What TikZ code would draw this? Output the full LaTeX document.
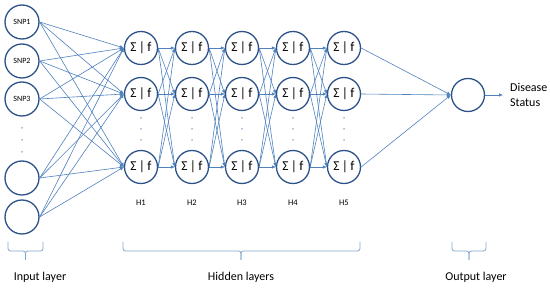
\documentclass[tikz,border=0pt]{standalone}
\usepackage{fontspec}
\setmainfont{Carlito}
\usetikzlibrary{arrows.meta}
\definecolor{linkblue}{RGB}{79,129,189}
\definecolor{ringblue}{RGB}{45,82,138}
\definecolor{bracecol}{RGB}{130,165,205}

\begin{document}
\begin{tikzpicture}[
    x=1pt, y=-1pt,
    neuron/.style={circle, draw=ringblue, line width=1.3pt, minimum size=33pt, inner sep=0pt, font=\fontsize{13.5}{13.5}\selectfont},
    inneuron/.style={neuron, minimum size=34pt, font=\fontsize{8}{8}\selectfont},
    link/.style={draw=linkblue, line width=0.6pt, -{Latex[length=4pt,width=3.5pt]}},
    dotmark/.style={circle, fill=linkblue, inner sep=0pt, minimum size=1.5pt},
    grp/.style={draw=bracecol, line width=0.8pt, rounded corners=2.5pt},
    layername/.style={font=\fontsize{8.5}{8.5}\selectfont},
    caption/.style={font=\fontsize{12}{15}\selectfont}
]
\useasboundingbox (0,0) rectangle (550,288);
% input layer
\foreach \i/\y/\txt in {1/22/SNP1, 2/61/SNP2, 3/99/SNP3, 4/178/, 5/217/}
  \node[inneuron] (in\i) at (22,\y) {\txt};
\foreach \y in {128,140,152}
  \node[dotmark] at (22,\y) {};
% hidden layers H1..H5
\foreach \c/\x in {1/141, 2/192, 3/242, 4/293, 5/344} {
  \foreach \r/\y in {1/48, 2/94, 3/167}
    \node[neuron] (h\c\r) at (\x,\y) {Σ\,|\,f};
  \foreach \y in {118,129,140}
    \node[dotmark] at (\x,\y) {};
  \node[layername] (lab\c) at (\x,203) {H\c};
}
% output layer
\node[neuron] (out) at (468,95) {};
\node[caption, anchor=west, align=left, inner xsep=7pt, inner ysep=0pt] (status) at (503,95) {Disease\\Status};
% connections
\foreach \i in {1,...,5}
  \foreach \j in {1,2,3}
    \draw[link] (in\i.east) -- (h1\j.west);
\foreach \c [evaluate=\c as \n using int(\c+1)] in {1,...,4}
  \foreach \a in {1,2,3}
    \foreach \b in {1,2,3}
      \draw[link] (h\c\a.east) -- (h\n\b.west);
\foreach \r in {1,2,3}
  \draw[link] (h5\r.east) -- (out.west);
\draw[link] (out.east) -- (status.west);
% braces and captions
\foreach \a/\m/\b in {8/25.5/43, 123/241/360, 452/469/486} {
  \draw[grp] (\a,242) |- (\m,251) -- (\m,260);
  \draw[grp] (\b,242) |- (\m,251) -- (\m,260);
}
\node[caption] (incap) at (40,277) {Input layer};
\node[caption] (hidcap) at (241,277) {Hidden layers};
\node[caption] (outcap) at (476,277) {Output layer};
\end{tikzpicture}
\end{document}
